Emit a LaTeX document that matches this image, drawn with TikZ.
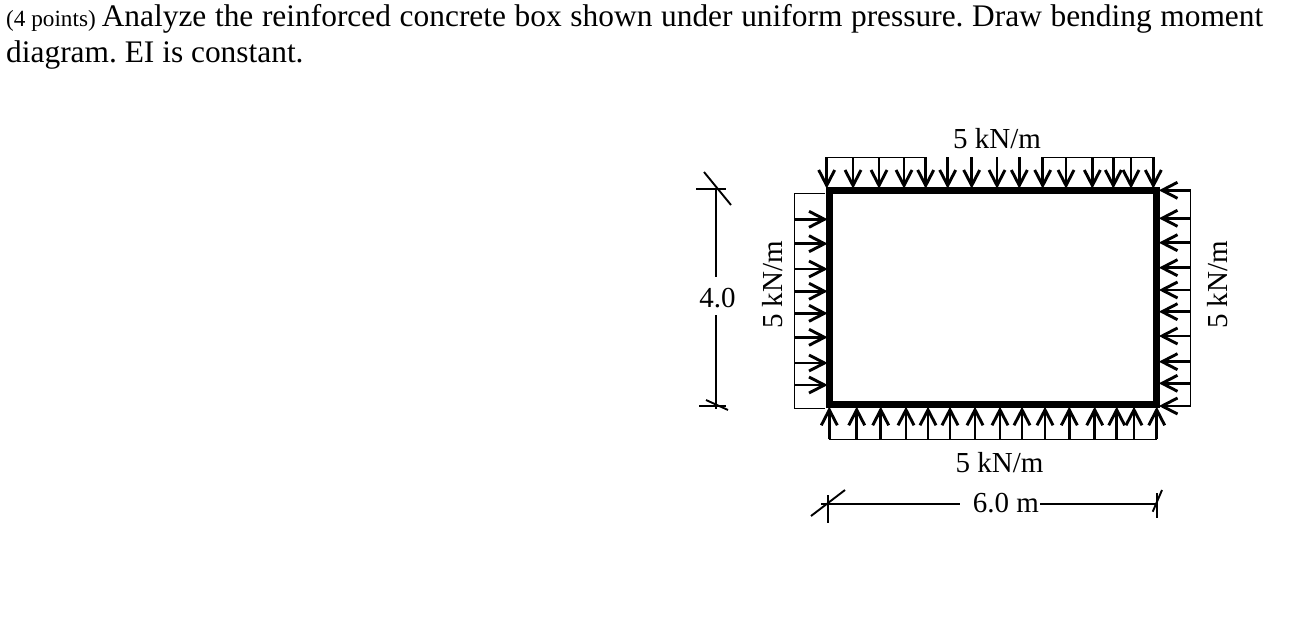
\documentclass[tikz,border=0pt]{standalone}
\usepackage{fontspec}
\setmainfont{Liberation Serif}
\tikzset{
  shaft/.style={line width=2.6pt},
  barbs/.style={line width=2.9pt,line join=miter,miter limit=10},
  vee/.pic={\draw[barbs] (-17,-8) -- (-1.5,0) -- (-17,8);},
  loadedge/.style={line width=1.4pt},
  frame/.style={line width=7.5pt,line join=miter},
  dimline/.style={line width=1.9pt},
  lab/.style={inner sep=0pt,font=\fontsize{29}{29}\selectfont},
}
\begin{document}
\begin{tikzpicture}[x=1pt,y=-1pt]
\useasboundingbox (0,0) rectangle (1292,642);
\fill[white] (0,0) rectangle (1292,642);
% statement
\node[anchor=base west,inner sep=0pt] (line1) at (6,27) {\frenchspacing{\fontsize{23.2}{23}\selectfont (4 points)}\hspace{6pt}\fontsize{31.4}{32}\selectfont\spaceskip=8.65pt Analyze the reinforced concrete box shown under uniform pressure. Draw bending moment};
\node[anchor=base west,inner sep=0pt] (line2) at (6,63) {\frenchspacing\fontsize{31.4}{32}\selectfont diagram. EI is constant.};
% load outlines
\draw[loadedge] (826.7,175) -- (826.7,157.3) -- (925.7,157.3) -- (925.7,175);
\draw[loadedge] (1042.7,175) -- (1042.7,157.3) -- (1153.3,157.3) -- (1153.3,175);
\draw[loadedge] (825,193.3) -- (794.7,193.3) -- (794.7,408.3) -- (825,408.3);
\draw[loadedge] (1161,190.3) -- (1190.7,190.3) -- (1190.7,406) -- (1170,406);
\draw[loadedge] (829.3,439.3) -- (1156.7,439.3);
% arrows
\foreach \x in {826.7,853,879,904,925.7,947.7,971.7,997,1019.3,1042.7,1066,1092.3,1113.3,1131,1153.3} {
  \draw[shaft] (\x,157.3) -- (\x,184);
  \pic[rotate=-90] at (\x,187) {vee};
}
\foreach \x in {829.3,856.7,880.7,906,928,950,975,1000,1022,1045,1069.3,1094.7,1116.7,1134,1156.7} {
  \draw[shaft] (\x,439.3) -- (\x,412);
  \pic[rotate=90] at (\x,408.3) {vee};
}
\foreach \y in {219.3,243.7,269,291.3,313.3,337.3,363,385} {
  \draw[shaft] (794.7,\y) -- (823,\y);
  \pic at (826,\y) {vee};
}
\foreach \y in {190.3,218.3,242.7,267.7,290,311.7,336,361.7,383.3,406} {
  \draw[shaft] (1190.7,\y) -- (1163,\y);
  \pic[rotate=180] at (1160.5,\y) {vee};
}
% box
\draw[frame] (829.3,190.3) rectangle (1156.7,404.3);
% labels
\node[lab] (topl) at (997,138.5) {5 kN/m};
\node[lab] (botl) at (999.5,463) {5 kN/m};
\node[lab,rotate=90] (leftl) at (773,285) {5 kN/m};
\node[lab,rotate=90] (rightl) at (1218,285) {5 kN/m};
\node[lab] (h) at (717.5,298) {4.0};
\node[lab] (w) at (1006,503) {6.0 m};
% dimensions
\coordinate (v1) at (716,189); \coordinate (v2) at (716,409);
\coordinate (h1) at (827.7,503.7); \coordinate (h2) at (1156.7,503.7);
\draw[dimline] (v1) -- (716,277.3);
\draw[dimline] (716,315) -- (v2);
\draw[dimline] (696,189) -- (726,189);
\draw[dimline] (704,172) -- (731,205);
\draw[dimline] (699,405.7) -- (726,405.7);
\draw[dimline] (706,400) -- (728,410);
\draw[dimline] (821,503.7) -- (960,503.7);
\draw[dimline] (1040,503.7) -- (h2);
\draw[dimline] (827.7,495) -- (827.7,523);
\draw[dimline] (811,516) -- (845,490);
\draw[dimline] (1156.7,493) -- (1156.7,518);
\draw[dimline] (1152.7,511.7) -- (1162,490);
\end{tikzpicture}
\end{document}
